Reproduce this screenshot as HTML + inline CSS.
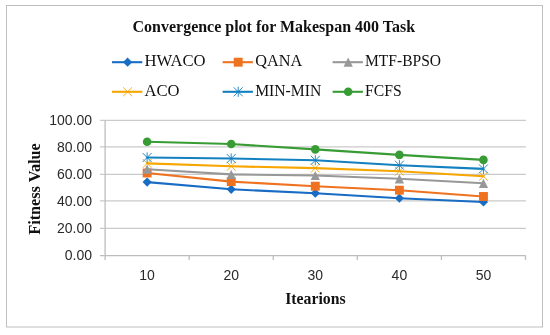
<!DOCTYPE html>
<html><head><meta charset="utf-8"><style>
html,body{margin:0;padding:0;background:#fff;width:550px;height:335px;overflow:hidden}
svg{display:block}
.t{font-family:"Liberation Serif",serif;fill:#111}
.a{font-family:"Liberation Sans",sans-serif;fill:#2a2a2a;font-size:14px}
</style></head><body>
<svg width="550" height="335" viewBox="0 0 550 335">
<rect x="0" y="0" width="550" height="335" fill="#fff"/>
<rect x="6.5" y="5.5" width="536" height="321.5" fill="none" stroke="#BFBFBF" stroke-width="1"/>

<text class="t" x="273.8" y="32.2" text-anchor="middle" font-weight="bold" font-size="16.6px" textLength="282.5" lengthAdjust="spacingAndGlyphs">Convergence plot for Makespan 400 Task</text>
<line x1="100" y1="255.6" x2="525.9" y2="255.6" stroke="#BDBDBD" stroke-width="1.2"/>
<text class="a" x="92" y="260.2" text-anchor="end">0.00</text>
<line x1="100" y1="228.4" x2="525.9" y2="228.4" stroke="#CACACA" stroke-width="1.2"/>
<text class="a" x="92" y="233.0" text-anchor="end">20.00</text>
<line x1="100" y1="200.9" x2="525.9" y2="200.9" stroke="#CACACA" stroke-width="1.2"/>
<text class="a" x="92" y="205.5" text-anchor="end">40.00</text>
<line x1="100" y1="174.4" x2="525.9" y2="174.4" stroke="#CACACA" stroke-width="1.2"/>
<text class="a" x="92" y="179.0" text-anchor="end">60.00</text>
<line x1="100" y1="146.9" x2="525.9" y2="146.9" stroke="#CACACA" stroke-width="1.2"/>
<text class="a" x="92" y="151.5" text-anchor="end">80.00</text>
<line x1="100" y1="120.4" x2="525.9" y2="120.4" stroke="#CACACA" stroke-width="1.2"/>
<text class="a" x="92" y="125.0" text-anchor="end">100.00</text>
<line x1="105.1" y1="120.4" x2="105.1" y2="260" stroke="#BDBDBD" stroke-width="1.3"/>
<line x1="189.2" y1="256" x2="189.2" y2="260" stroke="#BDBDBD" stroke-width="1.3"/>
<line x1="273.3" y1="256" x2="273.3" y2="260" stroke="#BDBDBD" stroke-width="1.3"/>
<line x1="357.3" y1="256" x2="357.3" y2="260" stroke="#BDBDBD" stroke-width="1.3"/>
<line x1="441.4" y1="256" x2="441.4" y2="260" stroke="#BDBDBD" stroke-width="1.3"/>
<line x1="525.5" y1="256" x2="525.5" y2="260" stroke="#BDBDBD" stroke-width="1.3"/>
<text class="a" x="147.1" y="279.5" text-anchor="middle">10</text>
<text class="a" x="231.2" y="279.5" text-anchor="middle">20</text>
<text class="a" x="315.3" y="279.5" text-anchor="middle">30</text>
<text class="a" x="399.4" y="279.5" text-anchor="middle">40</text>
<text class="a" x="483.5" y="279.5" text-anchor="middle">50</text>
<text class="t" x="315.4" y="303.5" text-anchor="middle" font-weight="bold" font-size="15.7px" textLength="60.5" lengthAdjust="spacingAndGlyphs">Itearions</text>
<text class="t" transform="translate(40.1 189) rotate(-90)" x="0" y="0" text-anchor="middle" font-weight="bold" font-size="15.7px" textLength="91.5" lengthAdjust="spacingAndGlyphs">Fitness Value</text>
<polyline points="147.14,182.10 231.22,189.30 315.30,193.20 399.38,198.20 483.46,202.00" fill="none" stroke="#186CC4" stroke-width="2.1" stroke-linejoin="round" stroke-linecap="round"/>
<path d="M147.14 177.50L151.74 182.10L147.14 186.70L142.54 182.10Z" fill="#186CC4"/>
<path d="M231.22 184.70L235.82 189.30L231.22 193.90L226.62 189.30Z" fill="#186CC4"/>
<path d="M315.30 188.60L319.90 193.20L315.30 197.80L310.70 193.20Z" fill="#186CC4"/>
<path d="M399.38 193.60L403.98 198.20L399.38 202.80L394.78 198.20Z" fill="#186CC4"/>
<path d="M483.46 197.40L488.06 202.00L483.46 206.60L478.86 202.00Z" fill="#186CC4"/>
<polyline points="147.14,173.00 231.22,181.60 315.30,186.20 399.38,190.20 483.46,196.50" fill="none" stroke="#EF7220" stroke-width="2.1" stroke-linejoin="round" stroke-linecap="round"/>
<rect x="142.69" y="168.55" width="8.90" height="8.90" fill="#EF7220"/>
<rect x="226.77" y="177.15" width="8.90" height="8.90" fill="#EF7220"/>
<rect x="310.85" y="181.75" width="8.90" height="8.90" fill="#EF7220"/>
<rect x="394.93" y="185.75" width="8.90" height="8.90" fill="#EF7220"/>
<rect x="479.01" y="192.05" width="8.90" height="8.90" fill="#EF7220"/>
<polyline points="147.14,169.20 231.22,174.40 315.30,175.50 399.38,178.80 483.46,183.30" fill="none" stroke="#989898" stroke-width="2.1" stroke-linejoin="round" stroke-linecap="round"/>
<path d="M147.14 164.60L151.74 173.80L142.54 173.80Z" fill="#989898"/>
<path d="M231.22 169.80L235.82 179.00L226.62 179.00Z" fill="#989898"/>
<path d="M315.30 170.90L319.90 180.10L310.70 180.10Z" fill="#989898"/>
<path d="M399.38 174.20L403.98 183.40L394.78 183.40Z" fill="#989898"/>
<path d="M483.46 178.70L488.06 187.90L478.86 187.90Z" fill="#989898"/>
<polyline points="147.14,163.40 231.22,166.30 315.30,168.10 399.38,171.20 483.46,176.30" fill="none" stroke="#F7A600" stroke-width="2.1" stroke-linejoin="round" stroke-linecap="round"/>
<path d="M142.74 159.00L151.54 167.80M151.54 159.00L142.74 167.80" stroke="#F7A600" stroke-width="0.9" fill="none"/>
<path d="M226.82 161.90L235.62 170.70M235.62 161.90L226.82 170.70" stroke="#F7A600" stroke-width="0.9" fill="none"/>
<path d="M310.90 163.70L319.70 172.50M319.70 163.70L310.90 172.50" stroke="#F7A600" stroke-width="0.9" fill="none"/>
<path d="M394.98 166.80L403.78 175.60M403.78 166.80L394.98 175.60" stroke="#F7A600" stroke-width="0.9" fill="none"/>
<path d="M479.06 171.90L487.86 180.70M487.86 171.90L479.06 180.70" stroke="#F7A600" stroke-width="0.9" fill="none"/>
<polyline points="147.14,157.50 231.22,158.50 315.30,160.30 399.38,165.20 483.46,168.90" fill="none" stroke="#1380C0" stroke-width="2.1" stroke-linejoin="round" stroke-linecap="round"/>
<path d="M142.64 153.00L151.64 162.00M151.64 153.00L142.64 162.00M147.14 152.40L147.14 162.60" stroke="#1380C0" stroke-width="0.9" fill="none"/>
<path d="M226.72 154.00L235.72 163.00M235.72 154.00L226.72 163.00M231.22 153.40L231.22 163.60" stroke="#1380C0" stroke-width="0.9" fill="none"/>
<path d="M310.80 155.80L319.80 164.80M319.80 155.80L310.80 164.80M315.30 155.20L315.30 165.40" stroke="#1380C0" stroke-width="0.9" fill="none"/>
<path d="M394.88 160.70L403.88 169.70M403.88 160.70L394.88 169.70M399.38 160.10L399.38 170.30" stroke="#1380C0" stroke-width="0.9" fill="none"/>
<path d="M478.96 164.40L487.96 173.40M487.96 164.40L478.96 173.40M483.46 163.80L483.46 174.00" stroke="#1380C0" stroke-width="0.9" fill="none"/>
<polyline points="147.14,141.80 231.22,144.00 315.30,149.40 399.38,154.90 483.46,159.90" fill="none" stroke="#389C34" stroke-width="2.1" stroke-linejoin="round" stroke-linecap="round"/>
<circle cx="147.14" cy="141.80" r="4.3" fill="#389C34"/>
<circle cx="231.22" cy="144.00" r="4.3" fill="#389C34"/>
<circle cx="315.30" cy="149.40" r="4.3" fill="#389C34"/>
<circle cx="399.38" cy="154.90" r="4.3" fill="#389C34"/>
<circle cx="483.46" cy="159.90" r="4.3" fill="#389C34"/>
<line x1="112" y1="62.2" x2="142.3" y2="62.2" stroke="#186CC4" stroke-width="2.1"/>
<path d="M127.60 57.60L132.20 62.20L127.60 66.80L123.00 62.20Z" fill="#186CC4"/>
<text class="t" x="144.6" y="66.0" font-size="16px" textLength="61" lengthAdjust="spacingAndGlyphs">HWACO</text>
<line x1="222.6" y1="62.2" x2="252.9" y2="62.2" stroke="#EF7220" stroke-width="2.1"/>
<rect x="233.75" y="57.75" width="8.90" height="8.90" fill="#EF7220"/>
<text class="t" x="255.2" y="66.0" font-size="16px" textLength="47" lengthAdjust="spacingAndGlyphs">QANA</text>
<line x1="332.6" y1="62.2" x2="362.90000000000003" y2="62.2" stroke="#989898" stroke-width="2.1"/>
<path d="M348.20 57.60L352.80 66.80L343.60 66.80Z" fill="#989898"/>
<text class="t" x="365" y="66.0" font-size="16px" textLength="76" lengthAdjust="spacingAndGlyphs">MTF-BPSO</text>
<line x1="112" y1="91.8" x2="142.3" y2="91.8" stroke="#F7A600" stroke-width="2.1"/>
<path d="M123.20 87.40L132.00 96.20M132.00 87.40L123.20 96.20" stroke="#F7A600" stroke-width="0.9" fill="none"/>
<text class="t" x="144.6" y="95.6" font-size="16px" textLength="35" lengthAdjust="spacingAndGlyphs">ACO</text>
<line x1="222.6" y1="91.8" x2="252.9" y2="91.8" stroke="#1380C0" stroke-width="2.1"/>
<path d="M233.70 87.30L242.70 96.30M242.70 87.30L233.70 96.30M238.20 86.70L238.20 96.90" stroke="#1380C0" stroke-width="0.9" fill="none"/>
<text class="t" x="255.2" y="95.6" font-size="16px" textLength="66" lengthAdjust="spacingAndGlyphs">MIN-MIN</text>
<line x1="332.6" y1="91.8" x2="362.90000000000003" y2="91.8" stroke="#389C34" stroke-width="2.1"/>
<circle cx="348.20" cy="91.80" r="4.3" fill="#389C34"/>
<text class="t" x="365" y="95.6" font-size="16px" textLength="36.6" lengthAdjust="spacingAndGlyphs">FCFS</text>
</svg>
</body></html>
